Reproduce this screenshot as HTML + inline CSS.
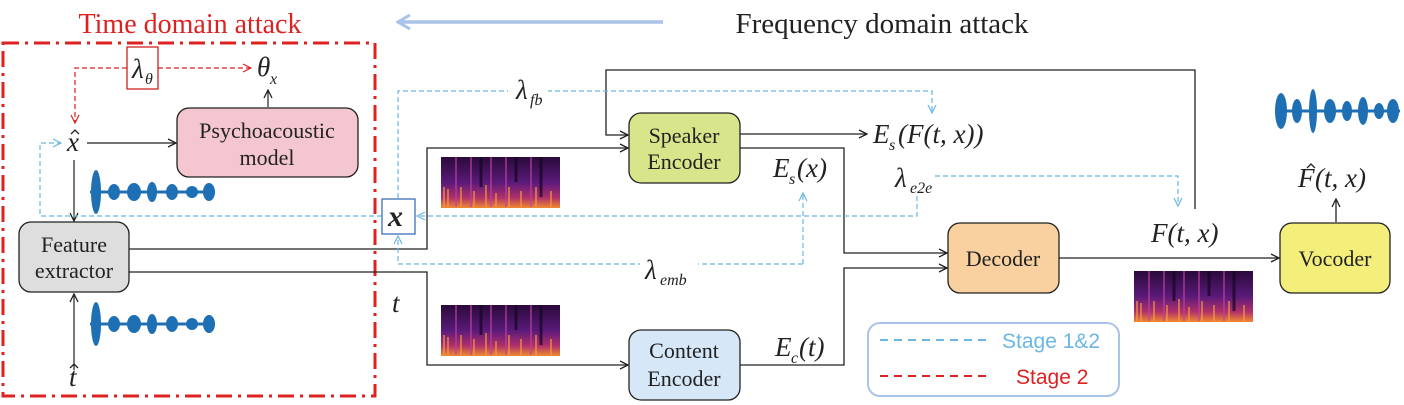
<!DOCTYPE html>
<html><head><meta charset="utf-8"><style>
html,body{margin:0;padding:0;background:#fff;}
svg{display:block;}
text{font-family:"Liberation Serif",serif;}
.m{font-style:italic;font-size:27px;fill:#222;}
.s{font-style:italic;font-size:16px;fill:#222;}
.b{font-size:22px;fill:#222;text-anchor:middle;}
</style></head><body>
<svg width="1404" height="405" viewBox="0 0 1404 405" xmlns="http://www.w3.org/2000/svg">
<defs>
<marker id="ak" markerWidth="10" markerHeight="10" refX="9" refY="5" orient="auto" markerUnits="userSpaceOnUse"><path d="M1,1 L9,5 L1,9" fill="none" stroke="#222" stroke-width="1.3"/></marker>
<marker id="ab" markerWidth="10" markerHeight="10" refX="9" refY="5" orient="auto" markerUnits="userSpaceOnUse"><path d="M1,1 L9,5 L1,9" fill="none" stroke="#6bb7e4" stroke-width="1.2"/></marker>
<marker id="ar" markerWidth="10" markerHeight="10" refX="9" refY="5" orient="auto" markerUnits="userSpaceOnUse"><path d="M1,1 L9,5 L1,9" fill="none" stroke="#d22" stroke-width="1.2"/></marker>
<marker id="abig" markerWidth="16" markerHeight="16" refX="14" refY="8" orient="auto" markerUnits="userSpaceOnUse"><path d="M2,1 L14,8 L2,15" fill="none" stroke="#a9c4e8" stroke-width="3"/></marker>
<linearGradient id="sp" x1="0" y1="0" x2="0" y2="1"><stop offset="0" stop-color="#2a0a3a"/><stop offset="0.5" stop-color="#5a1a7a"/><stop offset="0.8" stop-color="#b0306a"/><stop offset="1" stop-color="#f08a30"/></linearGradient>
<g id="spec">
<rect x="0" y="0" width="119" height="51" fill="url(#sp)"/>
<g stroke="#f6a040" stroke-width="1.5" opacity="0.8">
<path d="M3,30v20M7,32v18M20,30v20M33,34v16M45,28v22M55,36v14M68,30v20M80,34v16M95,30v20M110,34v16"/></g>
<g stroke="#c040a0" stroke-width="2" opacity="0.6"><path d="M15,0v50M30,0v50M50,0v50M65,0v50M90,0v50"/></g>
<g stroke="#150520" stroke-width="3" opacity="0.7"><path d="M40,0v30M75,0v25M100,0v40"/></g>
</g>
<g id="wave" fill="#1f6fb4">
<rect x="0" y="-1.5" width="125" height="3"/>
<ellipse cx="6" cy="0" rx="5" ry="22"/><ellipse cx="24" cy="0" rx="6" ry="8"/><ellipse cx="44" cy="0" rx="7" ry="9"/><ellipse cx="62" cy="0" rx="5" ry="10"/><ellipse cx="82" cy="0" rx="6" ry="8"/><ellipse cx="102" cy="0" rx="6" ry="6"/><ellipse cx="119" cy="0" rx="6" ry="9"/>
</g>
<path id="hat" d="M-4,4 L0,0 L4,4" fill="none" stroke="#222" stroke-width="1.3"/>
</defs>

<!-- headers -->
<text x="190" y="33" font-size="28" fill="#d22" text-anchor="middle">Time domain attack</text>
<line x1="663" y1="22" x2="398" y2="22" stroke="#a9c4e8" stroke-width="3.5" marker-end="url(#abig)"/>
<text x="882" y="33" font-size="29" fill="#222" text-anchor="middle">Frequency domain attack</text>

<!-- red dash-dot frame -->
<rect x="3" y="43" width="372" height="353" fill="none" stroke="#d22" stroke-width="3" stroke-dasharray="16,6,3,6"/>

<!-- lambda theta -->
<polyline points="127,68 75,68 75,123" fill="none" stroke="#d22" stroke-width="1.2" stroke-dasharray="5,3" marker-end="url(#ar)"/>
<line x1="158" y1="68" x2="251" y2="68" stroke="#d22" stroke-width="1.2" stroke-dasharray="5,3" marker-end="url(#ar)"/>
<rect x="127" y="47" width="31" height="42" fill="#fff" stroke="#c22" stroke-width="1.3"/>
<text x="132" y="78" class="m">λ</text><text x="145" y="84" class="s">θ</text>
<text x="257" y="76" class="m">θ</text><text x="270" y="84" class="s">x</text>

<!-- psychoacoustic -->
<rect x="177" y="108" width="181" height="69" rx="12" fill="#f4c6cf" stroke="#222" stroke-width="1.3"/>
<text x="267" y="138" class="b">Psychoacoustic</text><text x="267" y="165" class="b">model</text>
<line x1="268" y1="107" x2="268" y2="90" stroke="#222" stroke-width="1.2" marker-end="url(#ak)"/>

<!-- x hat -->
<text x="67" y="151" class="m">x</text><use href="#hat" x="75" y="130"/>
<line x1="87" y1="143" x2="176" y2="143" stroke="#222" stroke-width="1.2" marker-end="url(#ak)"/>
<line x1="74" y1="160" x2="74" y2="221" stroke="#222" stroke-width="1.2" marker-end="url(#ak)"/>
<use href="#wave" x="90" y="192"/>

<!-- blue dashed from x to xhat -->
<polyline points="382,216 40,216 40,143 61,143" fill="none" stroke="#6bb7e4" stroke-width="1.2" stroke-dasharray="5,3" marker-end="url(#ab)"/>

<!-- feature extractor -->
<rect x="19" y="222" width="110" height="70" rx="12" fill="#dedede" stroke="#222" stroke-width="1.3"/>
<text x="74" y="252" class="b">Feature</text><text x="74" y="278" class="b">extractor</text>
<line x1="74" y1="370" x2="74" y2="294" stroke="#222" stroke-width="1.2" marker-end="url(#ak)"/>
<text x="69" y="386" class="m">t</text><use href="#hat" x="74" y="364"/>
<use href="#wave" x="90" y="324"/>

<!-- x box -->
<rect x="382" y="199" width="33" height="35" fill="#fff" stroke="#3a6fb8" stroke-width="1.3"/>
<text x="388" y="226" font-size="30" font-style="italic" font-weight="bold" fill="#222">x</text>
<text x="392" y="312" class="m">t</text>

<!-- FE lines -->
<polyline points="129,249 427,249 427,148 628,148" fill="none" stroke="#222" stroke-width="1.3" marker-end="url(#ak)"/>
<polyline points="129,272 427,272 427,365 628,365" fill="none" stroke="#222" stroke-width="1.3" marker-end="url(#ak)"/>
<use href="#spec" x="441" y="157"/>
<use href="#spec" x="441" y="305"/>

<!-- top loop -->
<polyline points="1195,209 1195,70 606,70 606,135 628,135" fill="none" stroke="#222" stroke-width="1.3" marker-end="url(#ak)"/>

<!-- speaker encoder -->
<rect x="629" y="113" width="111" height="70" rx="12" fill="#d9e58a" stroke="#222" stroke-width="1.3"/>
<text x="684" y="143" class="b">Speaker</text><text x="684" y="169" class="b">Encoder</text>
<line x1="740" y1="134" x2="867" y2="134" stroke="#222" stroke-width="1.3" marker-end="url(#ak)"/>
<text x="873" y="143" class="m">E</text><text x="889" y="150" class="s">s</text><text x="898" y="143" class="m">(F(t, x))</text>

<!-- content encoder -->
<rect x="629" y="330" width="111" height="70" rx="12" fill="#d6e7f7" stroke="#222" stroke-width="1.3"/>
<text x="684" y="358" class="b">Content</text><text x="684" y="386" class="b">Encoder</text>

<!-- to decoder -->
<polyline points="740,148 844,148 844,253 947,253" fill="none" stroke="#222" stroke-width="1.3" marker-end="url(#ak)"/>
<polyline points="740,365 844,365 844,268 947,268" fill="none" stroke="#222" stroke-width="1.3" marker-end="url(#ak)"/>
<text x="773" y="177" class="m">E</text><text x="789" y="184" class="s">s</text><text x="797" y="177" class="m">(x)</text>
<text x="775" y="356" class="m">E</text><text x="791" y="363" class="s">c</text><text x="799" y="356" class="m">(t)</text>

<!-- decoder -->
<rect x="948" y="223" width="111" height="70" rx="12" fill="#f9d1a1" stroke="#222" stroke-width="1.3"/>
<text x="1003" y="266" class="b">Decoder</text>
<line x1="1059" y1="258" x2="1279" y2="258" stroke="#222" stroke-width="1.3" marker-end="url(#ak)"/>
<text x="1151" y="242" class="m" font-size="29">F(t, x)</text>
<use href="#spec" x="1134" y="271"/>

<!-- vocoder -->
<rect x="1280" y="223" width="110" height="70" rx="12" fill="#f3ef7a" stroke="#222" stroke-width="1.3"/>
<text x="1335" y="266" class="b">Vocoder</text>
<line x1="1336" y1="222" x2="1336" y2="199" stroke="#222" stroke-width="1.3" marker-end="url(#ak)"/>
<text x="1298" y="187" class="m">F</text><use href="#hat" x="1311" y="164"/><text x="1315" y="187" class="m">(t, x)</text>
<g transform="translate(1275,111)"><rect x="0" y="-1.5" width="125" height="3" fill="#1f6fb4"/>
<g fill="#1f6fb4"><ellipse cx="6" cy="0" rx="6" ry="18"/><ellipse cx="22" cy="0" rx="5" ry="12"/><ellipse cx="38" cy="0" rx="4" ry="22"/><ellipse cx="55" cy="0" rx="6" ry="12"/><ellipse cx="72" cy="0" rx="5" ry="10"/><ellipse cx="88" cy="0" rx="5" ry="14"/><ellipse cx="104" cy="0" rx="5" ry="8"/><ellipse cx="118" cy="0" rx="6" ry="12"/></g></g>

<!-- blue dashed loops -->
<g fill="none" stroke="#6bb7e4" stroke-width="1.2" stroke-dasharray="5,3">
<polyline points="398,198 398,91 932,91 932,113" marker-end="url(#ab)"/>
<polyline points="935,176 1178,176 1178,206" marker-end="url(#ab)"/>
<polyline points="917,196 917,216 417,216" marker-end="url(#ab)"/>
<polyline points="803,264 398,264 398,236" marker-end="url(#ab)"/>
<polyline points="803,264 803,193" marker-end="url(#ab)"/>
</g>
<rect x="508" y="80" width="40" height="24" fill="#fff"/>
<text x="516" y="99" class="m">λ</text><text x="530" y="105" class="s">fb</text>
<rect x="640" y="254" width="58" height="26" fill="#fff"/>
<text x="645" y="279" class="m">λ</text><text x="660" y="285" class="s">emb</text>
<text x="895" y="187" class="m">λ</text><text x="910" y="193" class="s">e2e</text>

<!-- legend -->
<rect x="868" y="323" width="251" height="73" rx="12" fill="#fff" stroke="#a9c4e8" stroke-width="2"/>
<line x1="880" y1="340" x2="988" y2="340" stroke="#6bb7e4" stroke-width="2" stroke-dasharray="8,6"/>
<text x="1002" y="348" font-size="21" fill="#6bb7e4" style="font-family:'Liberation Sans',sans-serif">Stage 1&amp;2</text>
<line x1="880" y1="376" x2="988" y2="376" stroke="#d22" stroke-width="2" stroke-dasharray="8,6"/>
<text x="1016" y="384" font-size="21" fill="#d22" style="font-family:'Liberation Sans',sans-serif">Stage 2</text>
</svg>
</body></html>
